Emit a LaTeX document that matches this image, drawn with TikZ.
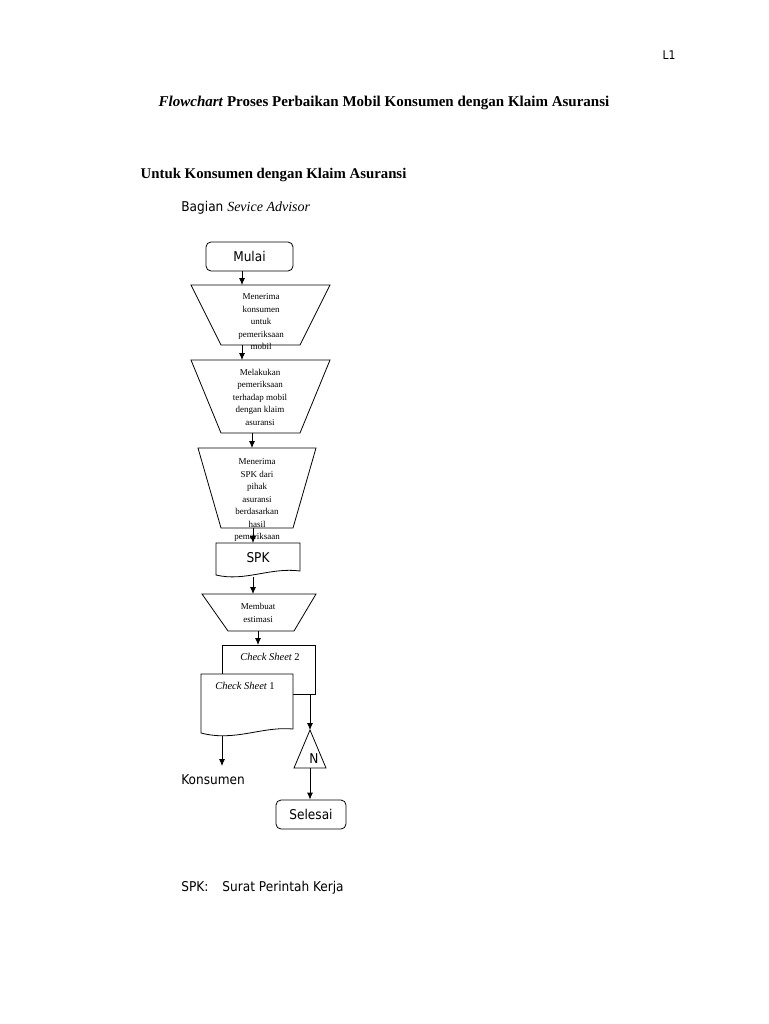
\documentclass[tikz,border=0pt]{standalone}
\usepackage{fontspec}
\setmainfont{Liberation Serif}
\newfontfamily\cond{DejaVu Sans Condensed}
\usetikzlibrary{arrows.meta}
\begin{document}
\begin{tikzpicture}[x=1pt,y=-1pt,line width=0.8pt,
  arr/.style={-{Latex[length=7pt,width=6pt]}},
  small/.style={font=\fontsize{9}{12.5}\selectfont,align=center,inner sep=0},
  lbl/.style={font=\cond\fontsize{13.5}{15}\selectfont,inner sep=0},
  rbox/.style={draw,rounded corners=5pt}]
\useasboundingbox[fill=white] (0,0) rectangle (768,1024);
\node[lbl,font=\cond\fontsize{12}{13}\selectfont] (l1) at (669,55) {L1};
\node[font=\bfseries\fontsize{15}{17}\selectfont] (title) at (384,103) {\textit{Flowchart} Proses Perbaikan Mobil Konsumen dengan Klaim Asuransi};
\node[font=\bfseries\fontsize{14.8}{16}\selectfont,anchor=west] (head) at (137,175) {Untuk Konsumen dengan Klaim Asuransi};
\node[lbl,anchor=west] (bag) at (181,208) {Bagian \textit{\rmfamily\fontsize{14}{15}\selectfont Sevice Advisor}};
% Mulai
\node[rbox,minimum width=87pt,minimum height=29pt,lbl] (mulai) at (249.5,256.5) {Mulai};
% trapezoid 1
\draw (191,285) -- (330,285) -- (300,345) -- (221,345) -- cycle;
\coordinate (t1t) at (242,285); \coordinate (t1b) at (242,345);
\node[small] (t1) at (261,322) {Menerima\\konsumen\\untuk\\pemeriksaan\\mobil};
% trapezoid 2
\draw (191,360) -- (330,360) -- (300,433) -- (221,433) -- cycle;
\coordinate (t2t) at (242,360); \coordinate (t2b) at (252,433);
\node[small] (t2) at (260,397) {Melakukan\\pemeriksaan\\terhadap mobil\\dengan klaim\\asuransi};
% trapezoid 3
\draw (198,448) -- (316,448) -- (293,528) -- (221,528) -- cycle;
\coordinate (t3t) at (252,448); \coordinate (t3b) at (253,528);
\node[small] (t3) at (257,500) {Menerima\\SPK dari\\pihak\\asuransi\\berdasarkan\\hasil\\pemeriksaan};
% SPK doc
\draw[fill=white] (216,543) -- (300,543) -- (300,571) .. controls (270,567) and (245,582) .. (216,575) -- cycle;
\coordinate (spkt) at (253,543); \coordinate (spkb) at (253,577);
\node[lbl] (spk) at (258,558) {SPK};
% trapezoid 4
\draw (202,594) -- (316,594) -- (294,631) -- (228,631) -- cycle;
\coordinate (t4t) at (253,594); \coordinate (t4b) at (258,631);
\node[small] (t4) at (258,613) {Membuat\\estimasi};
% check sheet 2
\draw (222,694) -- (222,645) -- (315,645) -- (315,694) -- (293,694);
\coordinate (cs2t) at (258,645); \coordinate (cs2b) at (310,694);
\node[font=\itshape\fontsize{10.5}{12}\selectfont] (cs2) at (270,657) {Check Sheet \upshape 2};
% check sheet 1
\draw[fill=white] (201,674) -- (293,674) -- (293,729) .. controls (262,726) and (235,742) .. (201,733) -- cycle;
\coordinate (cs1b) at (222,736);
\node[font=\itshape\fontsize{10.5}{12}\selectfont] (cs1) at (245,686) {Check Sheet \upshape 1};
% triangle
\draw (310,730) -- (326,768) -- (294,768) -- cycle;
\coordinate (trt) at (310,730); \coordinate (trb) at (310,768);
\node[lbl] (n) at (314,759) {N};
\coordinate (kons) at (222,766);
\node[lbl,anchor=west] (konsumen) at (181,780) {Konsumen};
\node[rbox,minimum width=70pt,minimum height=29pt,lbl] (selesai) at (311,814.5) {Selesai};
\node[lbl,anchor=west] (ket) at (181,888) {SPK:\hspace{14pt}Surat Perintah Kerja};
% arrows
\draw[arr] (mulai.south -| t1t) -- (t1t);
\draw[arr] (t1b) -- (t2t);
\draw[arr] (t2b) -- (t3t);
\draw[arr] (t3b) -- (spkt);
\draw[arr] (spkb) -- (t4t);
\draw[arr] (t4b) -- (cs2t);
\draw[arr] (cs2b) -- (trt);
\draw[arr] (cs1b) -- (kons);
\draw[arr] (trb) -- (selesai.north -| trb);
\end{tikzpicture}
\end{document}
